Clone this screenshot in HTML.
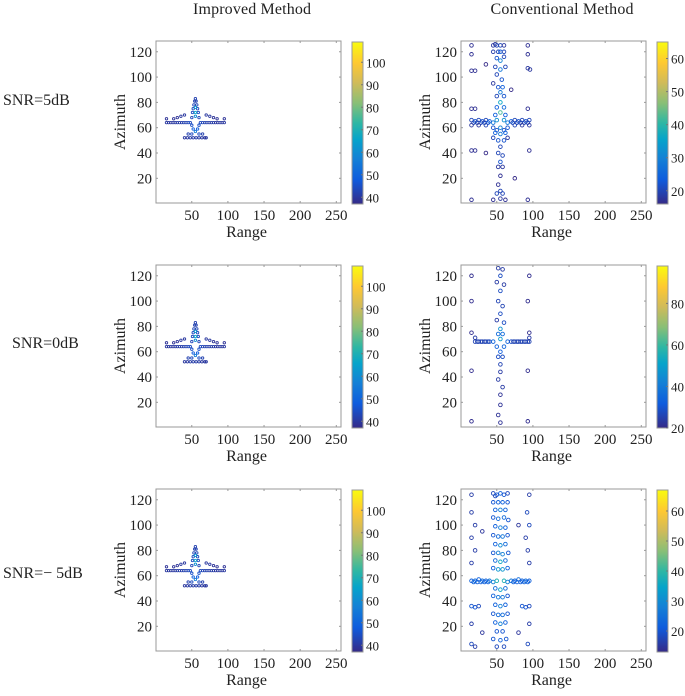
<!DOCTYPE html>
<html><head><meta charset="utf-8"><style>
html,body{margin:0;padding:0;background:#fff}
svg text{font-family:"Liberation Serif",serif;fill:#222}
</style></head><body>
<svg id="fig" width="685" height="691" viewBox="0 0 685 691" xmlns="http://www.w3.org/2000/svg">
<defs>
<linearGradient id="parula" x1="0" y1="1" x2="0" y2="0">
<stop offset="0" stop-color="#352a87"/><stop offset="0.15" stop-color="#0f5cdd"/>
<stop offset="0.28" stop-color="#1481d6"/><stop offset="0.4" stop-color="#06a4ca"/>
<stop offset="0.5" stop-color="#2eb7a4"/><stop offset="0.62" stop-color="#87bf77"/>
<stop offset="0.75" stop-color="#d1bb59"/><stop offset="0.87" stop-color="#fec832"/>
<stop offset="1" stop-color="#f9fb0e"/></linearGradient>
</defs>
<text x="252" y="14" font-size="16" text-anchor="middle" textLength="118">Improved Method</text>
<text x="562" y="14" font-size="16" text-anchor="middle" textLength="143">Conventional Method</text>
<text x="3" y="105" font-size="16">SNR=5dB</text>
<text x="12" y="348" font-size="16">SNR=0dB</text>
<text x="3" y="578" font-size="16">SNR=− 5dB</text>
</svg>
<script>
const xTicks=[50,100,150,200,250];
const yTicks=[20,40,60,80,100,120];
const cbTicksImp=[40,50,60,70,80,90,100];
const cbTicks1=[20,30,40,50,60];
const cbTicks2=[20,40,60,80];
const cbTicks3=[20,30,40,50,60];
const cbRangeImp=[37,109];
const cbRange1=[16,65];
const cbRange2=[20,98];
const cbRange3=[13,67];
// improved method: scatterer points [range, azimuth, value]
const planePts=[[15,64,40],[18,64,40],[21,64,40],[24,64,40],[27,64,40],[30,64,41],[33,64,41],[36,64,41],[39,64,42],[42,64,42],[45,64,43],[48,64,44],[62,64,44],[65,64,43],[68,64,42],[71,64,42],[74,64,41],[77,64,41],[80,64,41],[83,64,40],[86,64,40],[89,64,40],[92,64,40],[95,64,40],[95,67,39],[15,67,39],[25,67,39],[30,68,39],[35,69,40],[40,70,40],[70,70,40],[75,69,40],[80,68,39],[85,67,39],[55,83,42],[54,81,42],[56,81,42],[53,78,43],[57,78,43],[52,75,44],[58,75,44],[51,72,44],[59,72,44],[55,76,62],[55,72,66],[55,69,60],[50,68,43],[60,68,43],[50,62,45],[60,62,45],[52,59,48],[58,59,48],[55,57,56],[45,55,42],[50,55,44],[60,55,44],[65,55,42],[40,52,40],[44,52,40],[48,52,41],[52,52,41],[56,52,41],[60,52,41],[64,52,40],[68,52,40],[70,52,40]];
const conv1=[[45,125,18],[48,126,18],[50,125,20],[55,125,20],[60,125,18],[45,120,19],[52,120,20],[55,120,24],[60,120,20],[50,115,22],[55,113,30],[60,116,20],[48,108,20],[55,106,28],[62,108,20],[50,102,20],[57,98,22],[45,95,18],[52,92,22],[58,92,24],[55,88,28],[50,85,20],[60,85,22],[55,80,36],[50,76,24],[60,76,26],[55,72,42],[48,70,24],[62,70,24],[15,66,20],[18,64,20],[20,65,22],[23,64,20],[25,66,20],[28,64,20],[30,65,22],[33,64,20],[35,66,20],[38,64,22],[40,65,24],[45,64,28],[50,66,32],[60,66,32],[65,64,28],[70,65,24],[72,64,20],[75,66,20],[78,64,20],[80,65,22],[83,64,20],[85,66,20],[88,64,20],[90,65,22],[93,64,20],[95,66,20],[15,62,18],[25,62,18],[35,62,20],[75,62,20],[85,62,18],[95,62,18],[45,60,22],[50,58,22],[55,60,30],[60,58,22],[65,60,22],[48,56,24],[55,55,28],[62,56,24],[45,52,20],[52,50,22],[60,50,22],[65,52,18],[55,45,20],[52,40,20],[58,38,20],[55,33,22],[52,29,18],[58,29,18],[55,22,17],[52,15,17],[50,8,20],[55,10,20],[58,8,20],[55,4,18],[45,3,17],[62,3,17],[15,125,17],[15,118,17],[15,105,17],[20,105,17],[15,75,17],[20,75,17],[15,42,17],[20,42,17],[93,125,17],[93,118,17],[93,107,18],[96,106,18],[93,75,17],[95,42,17],[15,3,17],[93,3,17],[35,110,16],[35,40,16],[70,90,16],[75,20,16]];
const conv2=[[52,126,24],[58,125,24],[55,120,28],[50,115,24],[60,113,24],[55,108,28],[52,100,26],[58,96,26],[55,90,28],[50,85,24],[60,83,28],[55,78,46],[52,74,36],[58,74,36],[55,70,48],[20,68,26],[23,68,26],[25,68,26],[28,68,26],[30,68,26],[33,68,26],[35,68,26],[38,68,26],[40,68,28],[45,68,34],[65,68,34],[70,68,28],[73,68,26],[75,68,26],[78,68,26],[80,68,26],[83,68,26],[85,68,26],[88,68,26],[90,68,26],[93,68,26],[95,68,26],[20,71,24],[95,71,24],[50,64,34],[60,64,34],[55,60,32],[52,56,28],[58,56,28],[55,50,26],[55,44,24],[52,38,24],[58,32,24],[55,26,22],[55,18,22],[52,10,22],[55,4,22],[15,120,21],[15,100,21],[15,75,21],[15,45,21],[95,120,21],[93,100,21],[95,75,21],[93,45,21],[15,5,21],[93,5,21]];
const conv3=[[45,125,18],[48,123,18],[50,124,20],[55,125,22],[60,124,20],[65,125,18],[45,118,20],[52,118,22],[58,118,22],[65,118,20],[48,112,22],[55,112,28],[62,112,22],[45,106,20],[52,105,24],[60,106,24],[66,104,20],[48,99,22],[55,98,28],[62,98,22],[45,92,20],[52,91,24],[58,91,26],[65,92,20],[48,85,22],[55,84,30],[62,85,24],[45,78,20],[52,78,28],[58,77,28],[66,78,20],[48,72,24],[55,71,36],[62,72,24],[45,66,22],[52,65,32],[58,65,32],[65,66,22],[15,56,22],[18,55,22],[20,56,24],[23,55,22],[25,57,22],[28,55,22],[30,56,24],[33,55,22],[35,56,22],[38,55,22],[40,56,26],[45,55,28],[50,56,38],[60,56,38],[65,55,28],[70,56,26],[73,55,22],[75,56,22],[78,55,22],[80,57,24],[83,55,22],[85,56,22],[88,55,22],[90,56,24],[93,55,22],[95,56,22],[48,50,24],[55,49,34],[62,50,24],[45,44,22],[52,43,26],[58,43,26],[65,44,20],[48,37,22],[55,36,28],[62,37,22],[45,30,20],[52,29,24],[58,29,24],[65,30,20],[48,23,22],[55,22,28],[62,23,22],[50,16,20],[58,16,20],[45,10,20],[55,9,22],[63,10,20],[50,4,18],[60,4,18],[15,36,20],[20,35,20],[25,36,18],[85,36,20],[90,35,20],[95,36,18],[15,124,16],[15,110,16],[20,100,16],[15,90,16],[20,80,16],[15,70,16],[95,124,16],[92,110,18],[95,100,18],[90,90,16],[93,80,16],[95,70,16],[15,6,18],[20,4,16],[93,6,18],[15,22,16],[95,22,16],[30,95,15],[80,100,15],[30,15,15],[80,15,15]];

const NS='http://www.w3.org/2000/svg';
const svg=document.getElementById('fig');
function mk(tag,attrs,parent){const e=document.createElementNS(NS,tag);for(const k in attrs)e.setAttribute(k,attrs[k]);(parent||svg).appendChild(e);return e;}
const stops=[[0,[53,42,135]],[0.15,[15,92,221]],[0.28,[20,129,214]],[0.4,[6,164,202]],[0.5,[46,183,164]],[0.62,[135,191,119]],[0.75,[209,187,89]],[0.87,[254,200,50]],[1,[249,251,14]]];
function cmap(t){t=Math.max(0,Math.min(1,t));for(let i=1;i<stops.length;i++){if(t<=stops[i][0]){const a=stops[i-1],b=stops[i];const f=(t-a[0])/(b[0]-a[0]);const c=a[1].map((v,j)=>Math.round(v+(b[1][j]-v)*f));return 'rgb('+c.join(',')+')';}}return 'rgb(249,251,14)';}

function panel(name,px,py,pts,cbTicks,cbRange,rad){
  const W=185,H=162,cbx=px+196,cbw=11;
  const g=mk('g',{});
  
  
  const sx=v=>px+(v-0.5)/256*W, sy=v=>py+H-(v-0.5)/128*H;
  const area=mk('rect',{x:px,y:py,width:W,height:H,fill:'#fff'},g);
  
  
  const marks=mk('g',{},g);
  
  
  pts.forEach(p=>{
    const c=mk('circle',{cx:sx(p[0]).toFixed(1),cy:sy(p[1]).toFixed(1),r:rad,fill:'none',stroke:cmap((p[2]-cbRange[0])/(cbRange[1]-cbRange[0])),'stroke-width':0.9},marks);
    
    
  });
  const box=mk('rect',{x:px,y:py,width:W,height:H,fill:'none',stroke:'#999','stroke-width':1},g);
  
  
  xTicks.forEach(t=>{
    const x=sx(t);
    mk('line',{x1:x,y1:py+H,x2:x,y2:py+H-2,stroke:'#999'},g);
    mk('line',{x1:x,y1:py,x2:x,y2:py+2,stroke:'#999'},g);
    const tx=mk('text',{x:x,y:py+H+17,'font-size':15,'text-anchor':'middle'},g);
    tx.textContent=t;
    
    
  });
  yTicks.forEach(t=>{
    const y=sy(t);
    mk('line',{x1:px,y1:y,x2:px+2,y2:y,stroke:'#999'},g);
    mk('line',{x1:px+W,y1:y,x2:px+W-2,y2:y,stroke:'#999'},g);
    const tx=mk('text',{x:px-4,y:y+5,'font-size':15,'text-anchor':'end'},g);
    tx.textContent=t;
    
    
  });
  const xl=mk('text',{x:px+W/2-2,y:py+H+34,'font-size':16,'text-anchor':'middle'},g);
  xl.textContent='Range';
  
  
  const yl=mk('text',{x:0,y:0,'font-size':16,'text-anchor':'middle',transform:'translate('+(px-31)+','+(py+H/2)+') rotate(-90)'},g);
  yl.textContent='Azimuth';
  
  
  const cb=mk('rect',{x:cbx,y:py+1,width:cbw,height:H,fill:'url(#parula)',stroke:'#999','stroke-width':1},g);
  
  
  const cy=v=>py+1+H-(v-cbRange[0])/(cbRange[1]-cbRange[0])*H;
  cbTicks.forEach(t=>{
    const y=cy(t);
    mk('line',{x1:cbx+cbw-2,y1:y,x2:cbx+cbw,y2:y,stroke:'#777'},g);
    const tx=mk('text',{x:cbx+cbw+3,y:y+5,'font-size':13},g);
    tx.textContent=t;
    
    
  });
}
panel('improved-snr5',156,41,planePts,cbTicksImp,cbRangeImp,1.2);
panel('improved-snr0',156,265,planePts,cbTicksImp,cbRangeImp,1.2);
panel('improved-snrm5',156,489,planePts,cbTicksImp,cbRangeImp,1.2);
panel('conventional-snr5',461,41,conv1,cbTicks1,cbRange1,1.8);
panel('conventional-snr0',461,265,conv2,cbTicks2,cbRange2,1.8);
panel('conventional-snrm5',461,489,conv3,cbTicks3,cbRange3,1.8);
</script>
</body></html>
